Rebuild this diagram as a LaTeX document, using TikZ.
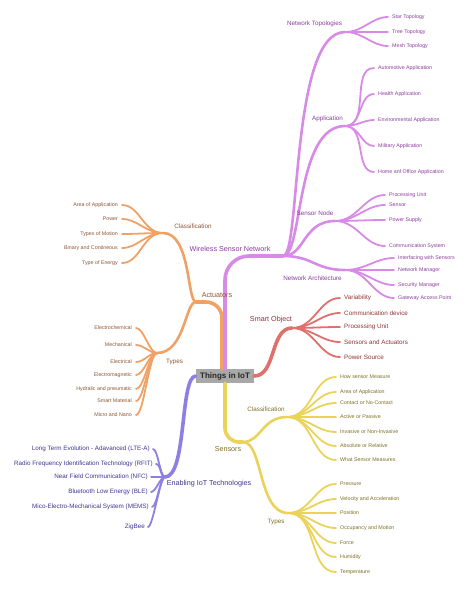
\documentclass[tikz,border=0pt]{standalone}
\usepackage{fontspec}
\setmainfont{Liberation Sans}
\usetikzlibrary{calc}

\definecolor{wsnline}{HTML}{D88BE6}
\definecolor{wsntext}{HTML}{8A3D9C}
\definecolor{actline}{HTML}{F0A165}
\definecolor{acttext}{HTML}{8C5634}
\definecolor{smoline}{HTML}{E0706C}
\definecolor{smotext}{HTML}{8E3436}
\definecolor{senline}{HTML}{EBD35A}
\definecolor{sentext}{HTML}{7D6E26}
\definecolor{enaline}{HTML}{8E80E2}
\definecolor{enatext}{HTML}{3C3690}
\definecolor{rootfill}{HTML}{A8A8A8}

\begin{document}
\begin{tikzpicture}[x=1pt,y=-1pt,
  trunk/.style={line width=3.6pt,line cap=round},
  branch/.style={line width=2.6pt,line cap=round},
  twig/.style={line width=1.8pt,line cap=round},
  mainlbl/.style={font=\fontsize{7.2}{8}\selectfont,inner sep=0pt},
  sublbl/.style={font=\fontsize{6.3}{7}\selectfont,inner sep=0pt},
  leaflbl/.style={font=\fontsize{5.3}{6}\selectfont,inner sep=2pt},
  bigleaf/.style={font=\fontsize{6.3}{7}\selectfont,inner sep=2pt}]
  \useasboundingbox (0,0) rectangle (474,592);

  % hubs
  \coordinate (wsn) at (283,256);
  \coordinate (nettop) at (345,32);
  \coordinate (app) at (345,126);
  \coordinate (snode) at (335,221);
  \coordinate (netarch) at (345,270);
  \coordinate (act) at (196,302);
  \coordinate (aclass) at (163,233);
  \coordinate (atypes) at (157,353);
  \coordinate (smo) at (292,328);
  \coordinate (sens) at (243,442);
  \coordinate (sclass) at (287,417);
  \coordinate (stypes) at (288,513);
  \coordinate (ena) at (165,477);

  \node[fill=rootfill,text=black!85,font=\bfseries\fontsize{8}{9}\selectfont,
    minimum width=58pt,minimum height=14pt,inner sep=0pt] (root) at (225,376) {Things in IoT};

  % main branches
  \draw[trunk,actline,rounded corners=16pt] ([xshift=-3pt]root.north) |- (act);
  \draw[trunk,wsnline,rounded corners=24pt] (root.north) |- (wsn);
  \draw[trunk,smoline] (root.east) .. controls +(22,0) and +(-22,0) .. (smo);
  \draw[trunk,senline,rounded corners=14pt] (root.south) |- (sens);
  \draw[trunk,enaline] (root.west) .. controls +(-16,0) and +(22,0) .. (ena);

  % sub branches
  \draw[branch,wsnline] (wsn) .. controls +(18,0) and +(-55,0) .. (nettop);
  \draw[branch,wsnline] (wsn) .. controls +(20,0) and +(-50,0) .. (app);
  \draw[branch,wsnline] (wsn) .. controls +(22,0) and +(-32,0) .. (snode);
  \draw[branch,wsnline] (wsn) .. controls +(30,0) and +(-30,0) .. (netarch);
  \draw[branch,actline] (act) .. controls +(-9,0) and +(28,0) .. (aclass);
  \draw[branch,actline] (act) .. controls +(-11,0) and +(28,0) .. (atypes);
  \draw[branch,senline] (sens) .. controls +(18,0) and +(-25,0) .. (sclass);
  \draw[branch,senline] (sens) .. controls +(20,0) and +(-30,0) .. (stypes);

  % labels
  \node[mainlbl,text=wsntext] (lwsn) at (230,249) {Wireless Sensor Network};
  \node[sublbl,text=wsntext] (lnettop) at (314.5,24) {Network Topologies};
  \node[sublbl,text=wsntext] (lapp) at (327.5,119) {Application};
  \node[sublbl,text=wsntext] (lsnode) at (315,213) {Sensor Node};
  \node[sublbl,text=wsntext] (lnetarch) at (312.5,278) {Network Architecture};
  \node[mainlbl,text=acttext] (lact) at (217,295) {Actuators};
  \node[sublbl,text=acttext] (laclass) at (193,226) {Classification};
  \node[sublbl,text=acttext] (latypes) at (174.5,362) {Types};
  \node[mainlbl,text=smotext] (lsmo) at (271,320) {Smart Object};
  \node[mainlbl,text=sentext] (lsens) at (228,449) {Sensors};
  \node[sublbl,text=sentext] (lsclass) at (266,409) {Classification};
  \node[sublbl,text=sentext] (lstypes) at (276,522) {Types};
  \node[mainlbl,text=enatext] (lena) at (209,484) {Enabling IoT Technologies};

  % leaves
  \foreach \y/\t [count=\i] in {17/Star Topology,32/Tree Topology,46/Mesh Topology}{
    \node[leaflbl,text=wsntext,anchor=west] (top\i) at (390,\y) {\t};
    \draw[twig,wsnline,shorten >=2pt] (nettop) to[out=0,in=180] (top\i.west);
  }
  \foreach \y/\t [count=\i] in {68/Automotive Application,94/Health Application,
      120/Environmental Application,146/Military Application,172/Home anf Office Application}{
    \node[leaflbl,text=wsntext,anchor=west] (app\i) at (376,\y) {\t};
    \draw[twig,wsnline,shorten >=2pt] (app) to[out=0,in=180] (app\i.west);
  }
  \foreach \y/\t [count=\i] in {195/Processing Unit,205/Sensor,220/Power Supply,246/Communication System}{
    \node[leaflbl,text=wsntext,anchor=west] (sn\i) at (387,\y) {\t};
    \draw[twig,wsnline,shorten >=2pt] (snode) to[out=0,in=180] (sn\i.west);
  }
  \foreach \y/\t [count=\i] in {258/Interfacing with Sensors,270/Network Manager,
      285/Security Manager,298/Gateway Access Point}{
    \node[leaflbl,text=wsntext,anchor=west] (na\i) at (396,\y) {\t};
    \draw[twig,wsnline,shorten >=2pt] (netarch) to[out=0,in=180] (na\i.west);
  }
  \foreach \y/\t [count=\i] in {205/Area of Application,219/Power,234/Types of Motion,
      248/Binary and Contineous,263/Type of Energy}{
    \node[leaflbl,text=acttext,anchor=east] (ac\i) at (120,\y) {\t};
    \draw[twig,actline,shorten >=2pt] (aclass) to[out=180,in=0] (ac\i.east);
  }
  \foreach \y/\t [count=\i] in {328/Electrochemical,345/Mechanical,362/Electrical,375/Electromagnetic,
      389/Hydralic and pneumatic,401/Smart Material,415/Micro and Nano}{
    \node[leaflbl,text=acttext,anchor=east] (at\i) at (134,\y) {\t};
    \draw[twig,actline,shorten >=2pt] (atypes) .. controls +(-8,0) and +(10,0) .. (at\i.east);
  }
  \foreach \y/\t [count=\i] in {298/Variability,313/Communication device,327/Processing Unit,
      342/Sensors and Actuators,357/Power Source}{
    \node[bigleaf,text=smotext,anchor=west] (so\i) at (342,\y) {\t};
    \draw[twig,smoline,shorten >=2pt] (smo) to[out=0,in=180] (so\i.west);
  }
  \foreach \y/\t [count=\i] in {377/How sensor Measure,392/Area of Application,403/Contact or No-Contact,
      417/Active or Passive,432/Invasive or Non-Invasive,446/Absolute or Relative,460/What Sensor Measures}{
    \node[leaflbl,text=sentext,anchor=west] (sc\i) at (338,\y) {\t};
    \draw[twig,senline,shorten >=2pt] (sclass) to[out=0,in=180] (sc\i.west);
  }
  \foreach \y/\t [count=\i] in {484/Pressure,499/Velocity and Acceleration,513/Position,
      528/Occupancy and Motion,543/Force,557/Humidity,572/Temperature}{
    \node[leaflbl,text=sentext,anchor=west] (st\i) at (338,\y) {\t};
    \draw[twig,senline,shorten >=2pt] (stypes) to[out=0,in=180] (st\i.west);
  }
  \foreach \x/\y/\t [count=\i] in {152/449/Long Term Evolution - Adavanced (LTE-A),
      155/464/Radio Frequency Identification Technology (RFIT),
      150/477/Near Field Communication (NFC),150/492/Bluetooth Low Energy (BLE),
      151/507/Mico-Electro-Mechanical System (MEMS),147/527/ZigBee}{
    \node[bigleaf,text=enatext,anchor=east] (en\i) at (\x,\y) {\t};
    \draw[twig,enaline,shorten >=1pt] (ena) .. controls +(-5,0) and +(6,0) .. (en\i.east);
  }
\end{tikzpicture}
\end{document}
